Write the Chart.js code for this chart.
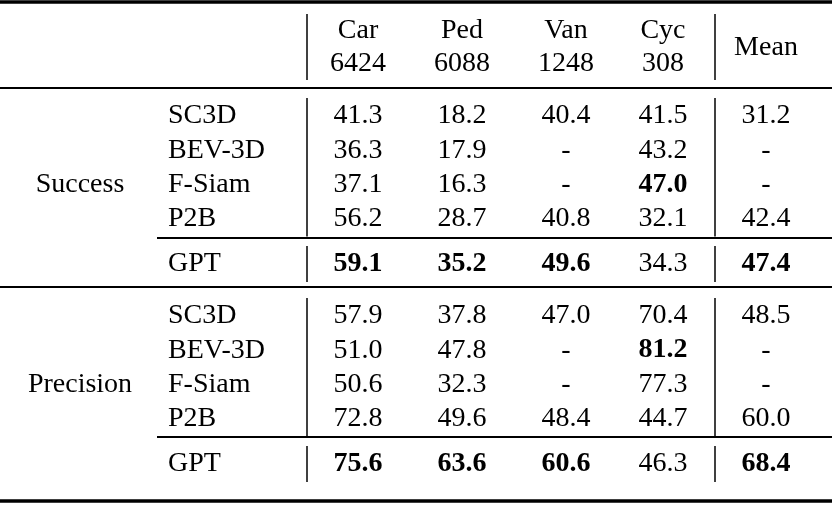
<!DOCTYPE html>
<html>
<head>
<meta charset="utf-8">
<script src="https://cdn.jsdelivr.net/npm/chart.js@4"></script>
<style>
  html, body { margin: 0; padding: 0; background: #fff; }
  #wrap { width: 832px; height: 505px; }
</style>
</head>
<body>
<div id="wrap"><canvas id="myChart" width="832" height="505"></canvas></div>
<script>
// table data
const headers = ['Car', 'Ped', 'Van', 'Cyc'];
const counts = ['6424', '6088', '1248', '308'];
const groups = ['Success', 'Precision'];
const methods = ['SC3D', 'BEV-3D', 'F-Siam', 'P2B', 'GPT'];
const successVals = [
    ['41.3', '18.2', '40.4', '41.5', '31.2'],
    ['36.3', '17.9', '-', '43.2', '-'],
    ['37.1', '16.3', '-', '47.0', '-'],
    ['56.2', '28.7', '40.8', '32.1', '42.4'],
    ['59.1', '35.2', '49.6', '34.3', '47.4'],
];
const precisionVals = [
    ['57.9', '37.8', '47.0', '70.4', '48.5'],
    ['51.0', '47.8', '-', '81.2', '-'],
    ['50.6', '32.3', '-', '77.3', '-'],
    ['72.8', '49.6', '48.4', '44.7', '60.0'],
    ['75.6', '63.6', '60.6', '46.3', '68.4'],
];
// bold cells: [row, col]
const successBold = [[2, 3], [4, 0], [4, 1], [4, 2], [4, 4]];
const precisionBold = [[1, 3], [4, 0], [4, 1], [4, 2], [4, 4]];

// layout in pixel units (scales map 0..832 and 0..505 directly)
const colX = [358, 462, 566, 663, 766];
const groupX = 80, methodX = 168;
const blockTop = [116, 316];
const rowStep = 34.2;
const gptY = [264, 464];

const font = "'Liberation Serif', 'DejaVu Serif', serif";

const tablePlugin = {
    id: 'table',
    afterDraw(chart) {
        const ctx = chart.ctx;
        const sx = chart.scales.x, sy = chart.scales.y;
        const X = v => sx.getPixelForValue(v), Y = v => sy.getPixelForValue(v);
        ctx.save();
        ctx.fillStyle = '#000';
        ctx.strokeStyle = '#000';
        ctx.textBaseline = 'middle';

        function hline(y, x0, x1, w) {
            ctx.lineWidth = w;
            ctx.beginPath(); ctx.moveTo(X(x0), Y(y)); ctx.lineTo(X(x1), Y(y)); ctx.stroke();
        }
        function vline(x, y0, y1) {
            ctx.lineWidth = 1.5;
            ctx.beginPath(); ctx.moveTo(X(x), Y(y0)); ctx.lineTo(X(x), Y(y1)); ctx.stroke();
        }
        function text(t, x, y, align, bold) {
            ctx.font = (bold ? 'bold ' : '') + '28px ' + font;
            ctx.textAlign = align;
            ctx.fillText(t, X(x), Y(y));
        }

        // rules
        hline(2, 0, 832, 3.5);
        hline(88, 0, 832, 2);
        hline(238, 157, 832, 2);
        hline(287, 0, 832, 2);
        hline(437, 157, 832, 2);
        hline(501, 0, 832, 3.5);

        // header
        headers.forEach((h, i) => {
            text(h, colX[i], 31, 'center');
            text(counts[i], colX[i], 64, 'center');
        });
        text('Mean', colX[4], 48, 'center');
        [307, 715].forEach(x => vline(x, 14, 80));

        [successVals, precisionVals].forEach((vals, g) => {
            const bold = g === 0 ? successBold : precisionBold;
            text(groups[g], groupX, blockTop[g] + rowStep * 2, 'center');
            vals.forEach((row, r) => {
                const y = r < 4 ? blockTop[g] + r * rowStep : gptY[g];
                text(methods[r], methodX, y, 'left');
                row.forEach((v, c) => {
                    const b = bold.some(p => p[0] === r && p[1] === c);
                    text(v, colX[c], y, 'center', b);
                });
            });
            const t = blockTop[g];
            [307, 715].forEach(x => {
                vline(x, t - 18, t + 3 * rowStep + 18);
                vline(x, gptY[g] - 18, gptY[g] + 18);
            });
        });
        ctx.restore();
    }
};

new Chart(document.getElementById('myChart').getContext('2d'), {
    type: 'scatter',
    data: { datasets: [{ data: [] }] },
    options: {
        responsive: false,
        animation: false,
        layout: { padding: 0 },
        plugins: { legend: { display: false }, tooltip: { enabled: false } },
        scales: {
            x: { type: 'linear', min: 0, max: 832, display: false },
            y: { type: 'linear', min: 0, max: 505, reverse: true, display: false }
        }
    },
    plugins: [tablePlugin]
});
</script>
</body>
</html>
